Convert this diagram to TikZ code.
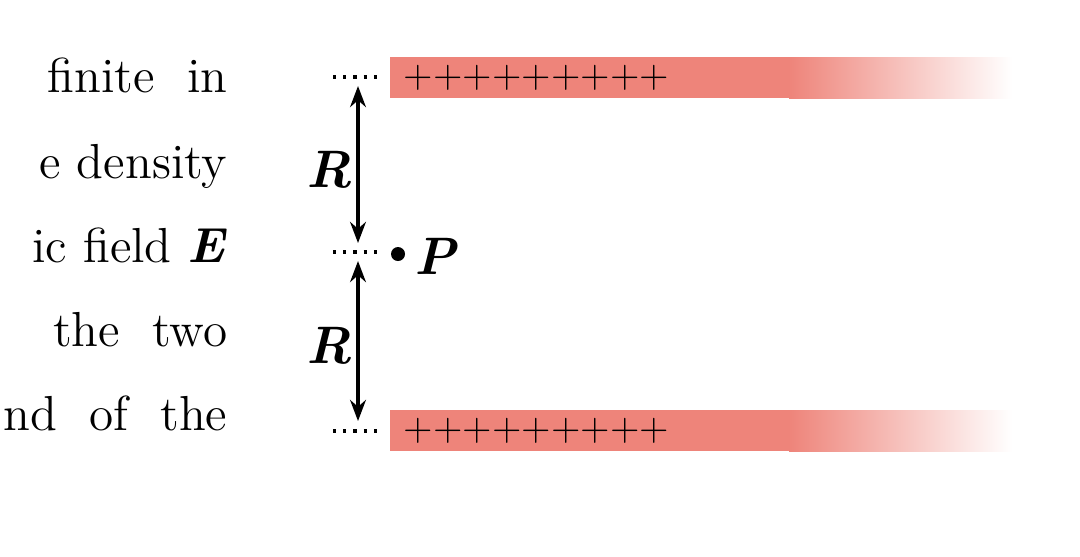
\documentclass[tikz,border=0pt]{standalone}
\usetikzlibrary{arrows.meta}
\definecolor{bar}{RGB}{238,132,122}
\tikzset{
  txt/.style={anchor=east,inner sep=0pt,font=\fontsize{14}{16}\selectfont},
  dots/.style={dotted,line width=0.9pt},
  dim/.style={{Stealth[length=6pt]}-{Stealth[length=6pt]},line width=0.9pt},
  lab/.style={inner sep=0pt,font=\fontsize{15}{16}\selectfont\bfseries\itshape},
  plus/.style={anchor=west,inner sep=0pt,font=\fontsize{11}{12}\selectfont}
}
\begin{document}
\begin{tikzpicture}[x=0.01cm,y=-0.01cm]
\useasboundingbox (0,0) rectangle (1080,556);
% left text
\node[txt,anchor=base east] (t1) at (228,92) {finite\ \ in};
\node[txt,anchor=base east] (t2) at (228,178) {e density};
\node[txt,anchor=base east] (t3) at (228,262) {ic field \textbf{\textit{E}}};
\node[txt,anchor=base east] (t4) at (228,346) {\ the\ \ two};
\node[txt,anchor=base east] (t5) at (228,430) {nd\ \ of\ \ the};
% bars
\foreach \y/\n in {57/top,410/bot}{
  \fill[bar] (390,\y) rectangle (790,\y+41);
  \shade[left color=bar,right color=white] (789,\y) rectangle (1012,\y+41);
  \node[plus] (p\n) at (403,\y+21) {+++++++++};
}
% dotted
\coordinate (d1a) at (333,77); \coordinate (d1b) at (378,77);
\coordinate (d2a) at (333,252); \coordinate (d2b) at (378,252);
\coordinate (d3a) at (333,431); \coordinate (d3b) at (378,431);
\draw[dots] (d1a)--(d1b); \draw[dots] (d2a)--(d2b); \draw[dots] (d3a)--(d3b);
% arrows
\coordinate (a1) at (358,86); \coordinate (a2) at (358,243);
\coordinate (a3) at (358,261); \coordinate (a4) at (358,421);
\draw[dim] (a1)--(a2);
\draw[dim] (a3)--(a4);
\node[lab] (r1) at (329,170) {R};
\node[lab] (r2) at (329,346) {R};
% point
\fill (398,254) circle (7);
\node[lab,anchor=west] (P) at (414,256) {P};
\end{tikzpicture}
\end{document}
